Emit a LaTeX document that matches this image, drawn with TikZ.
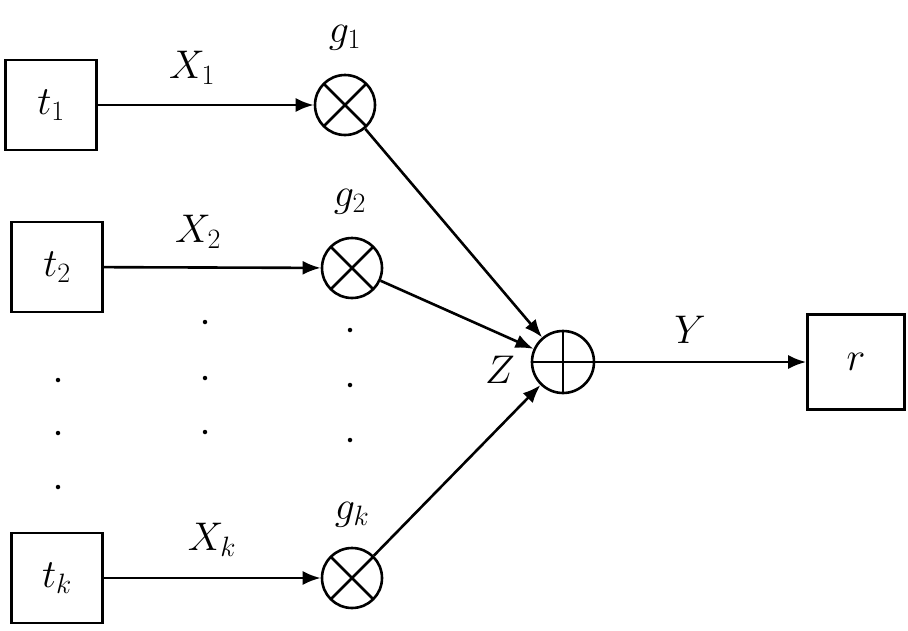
\RequirePackage{fix-cm}
\documentclass[tikz,border=0pt]{standalone}
\usetikzlibrary{arrows.meta}
\begin{document}
\begin{tikzpicture}[x=1pt,y=-1pt,line width=2.6pt,
  lbl/.style={font=\fontsize{40}{48}\selectfont},
  bx/.style={draw,minimum width=91pt,minimum height=90pt,inner sep=0pt,font=\fontsize{40}{48}\selectfont},
  mul/.style={draw,circle,minimum size=60pt,inner sep=0pt,path picture={
    \draw ([shift={(-30pt,30pt)}]path picture bounding box.center) -- ([shift={(30pt,-30pt)}]path picture bounding box.center);
    \draw ([shift={(-30pt,-30pt)}]path picture bounding box.center) -- ([shift={(30pt,30pt)}]path picture bounding box.center);}},
  add/.style={draw,circle,minimum size=62pt,inner sep=0pt,path picture={
    \draw ([shift={(-31pt,0pt)}]path picture bounding box.center) -- ([shift={(31pt,0pt)}]path picture bounding box.center);
    \draw ([shift={(0pt,-31pt)}]path picture bounding box.center) -- ([shift={(0pt,31pt)}]path picture bounding box.center);}},
  arr/.style={-{Latex[length=18pt,width=14pt]}},
  dot/.style={circle,fill,inner sep=0pt,minimum size=4.5pt}]
\useasboundingbox (0,0) rectangle (908,630);
\node[bx] (t1) at (51,105) {$t_1$};
\node[bx] (t2) at (57,267) {$t_2$};
\node[bx] (tk) at (57,578) {$t_k$};
\node[bx,minimum width=97pt,minimum height=95pt] (r) at (856,362) {$r$};
\node[mul] (g1) at (345,105) {};
\node[mul] (g2) at (352,268) {};
\node[mul] (gk) at (352,578) {};
\node[add] (z) at (563,362) {};
\draw[arr] (t1) -- (g1);
\draw[arr] (t2) -- (g2);
\draw[arr] (tk) -- (gk);
\draw[arr] (g1) -- (z);
\draw[arr] (g2) -- (z);
\draw[arr] (gk) -- (z);
\draw[arr] (z) -- (r);
\node[lbl] (x1) at (192,68) {$X_1$};
\node[lbl] (x2) at (198,232) {$X_2$};
\node[lbl] (xk) at (212,540) {$X_k$};
\node[lbl] (lg1) at (345,38) {$g_1$};
\node[lbl] (lg2) at (350,202) {$g_2$};
\node[lbl] (lgk) at (352,515) {$g_k$};
\node[lbl] (ly) at (690,330) {$Y$};
\node[lbl] (lz) at (500,370) {$Z$};
\foreach \y [count=\i] in {380,433,487} \node[dot] (da\i) at (58,\y) {};
\foreach \y [count=\i] in {322,378,432} \node[dot] (db\i) at (205,\y) {};
\foreach \y [count=\i] in {330,385,440} \node[dot] (dc\i) at (350,\y) {};
\end{tikzpicture}
\end{document}
